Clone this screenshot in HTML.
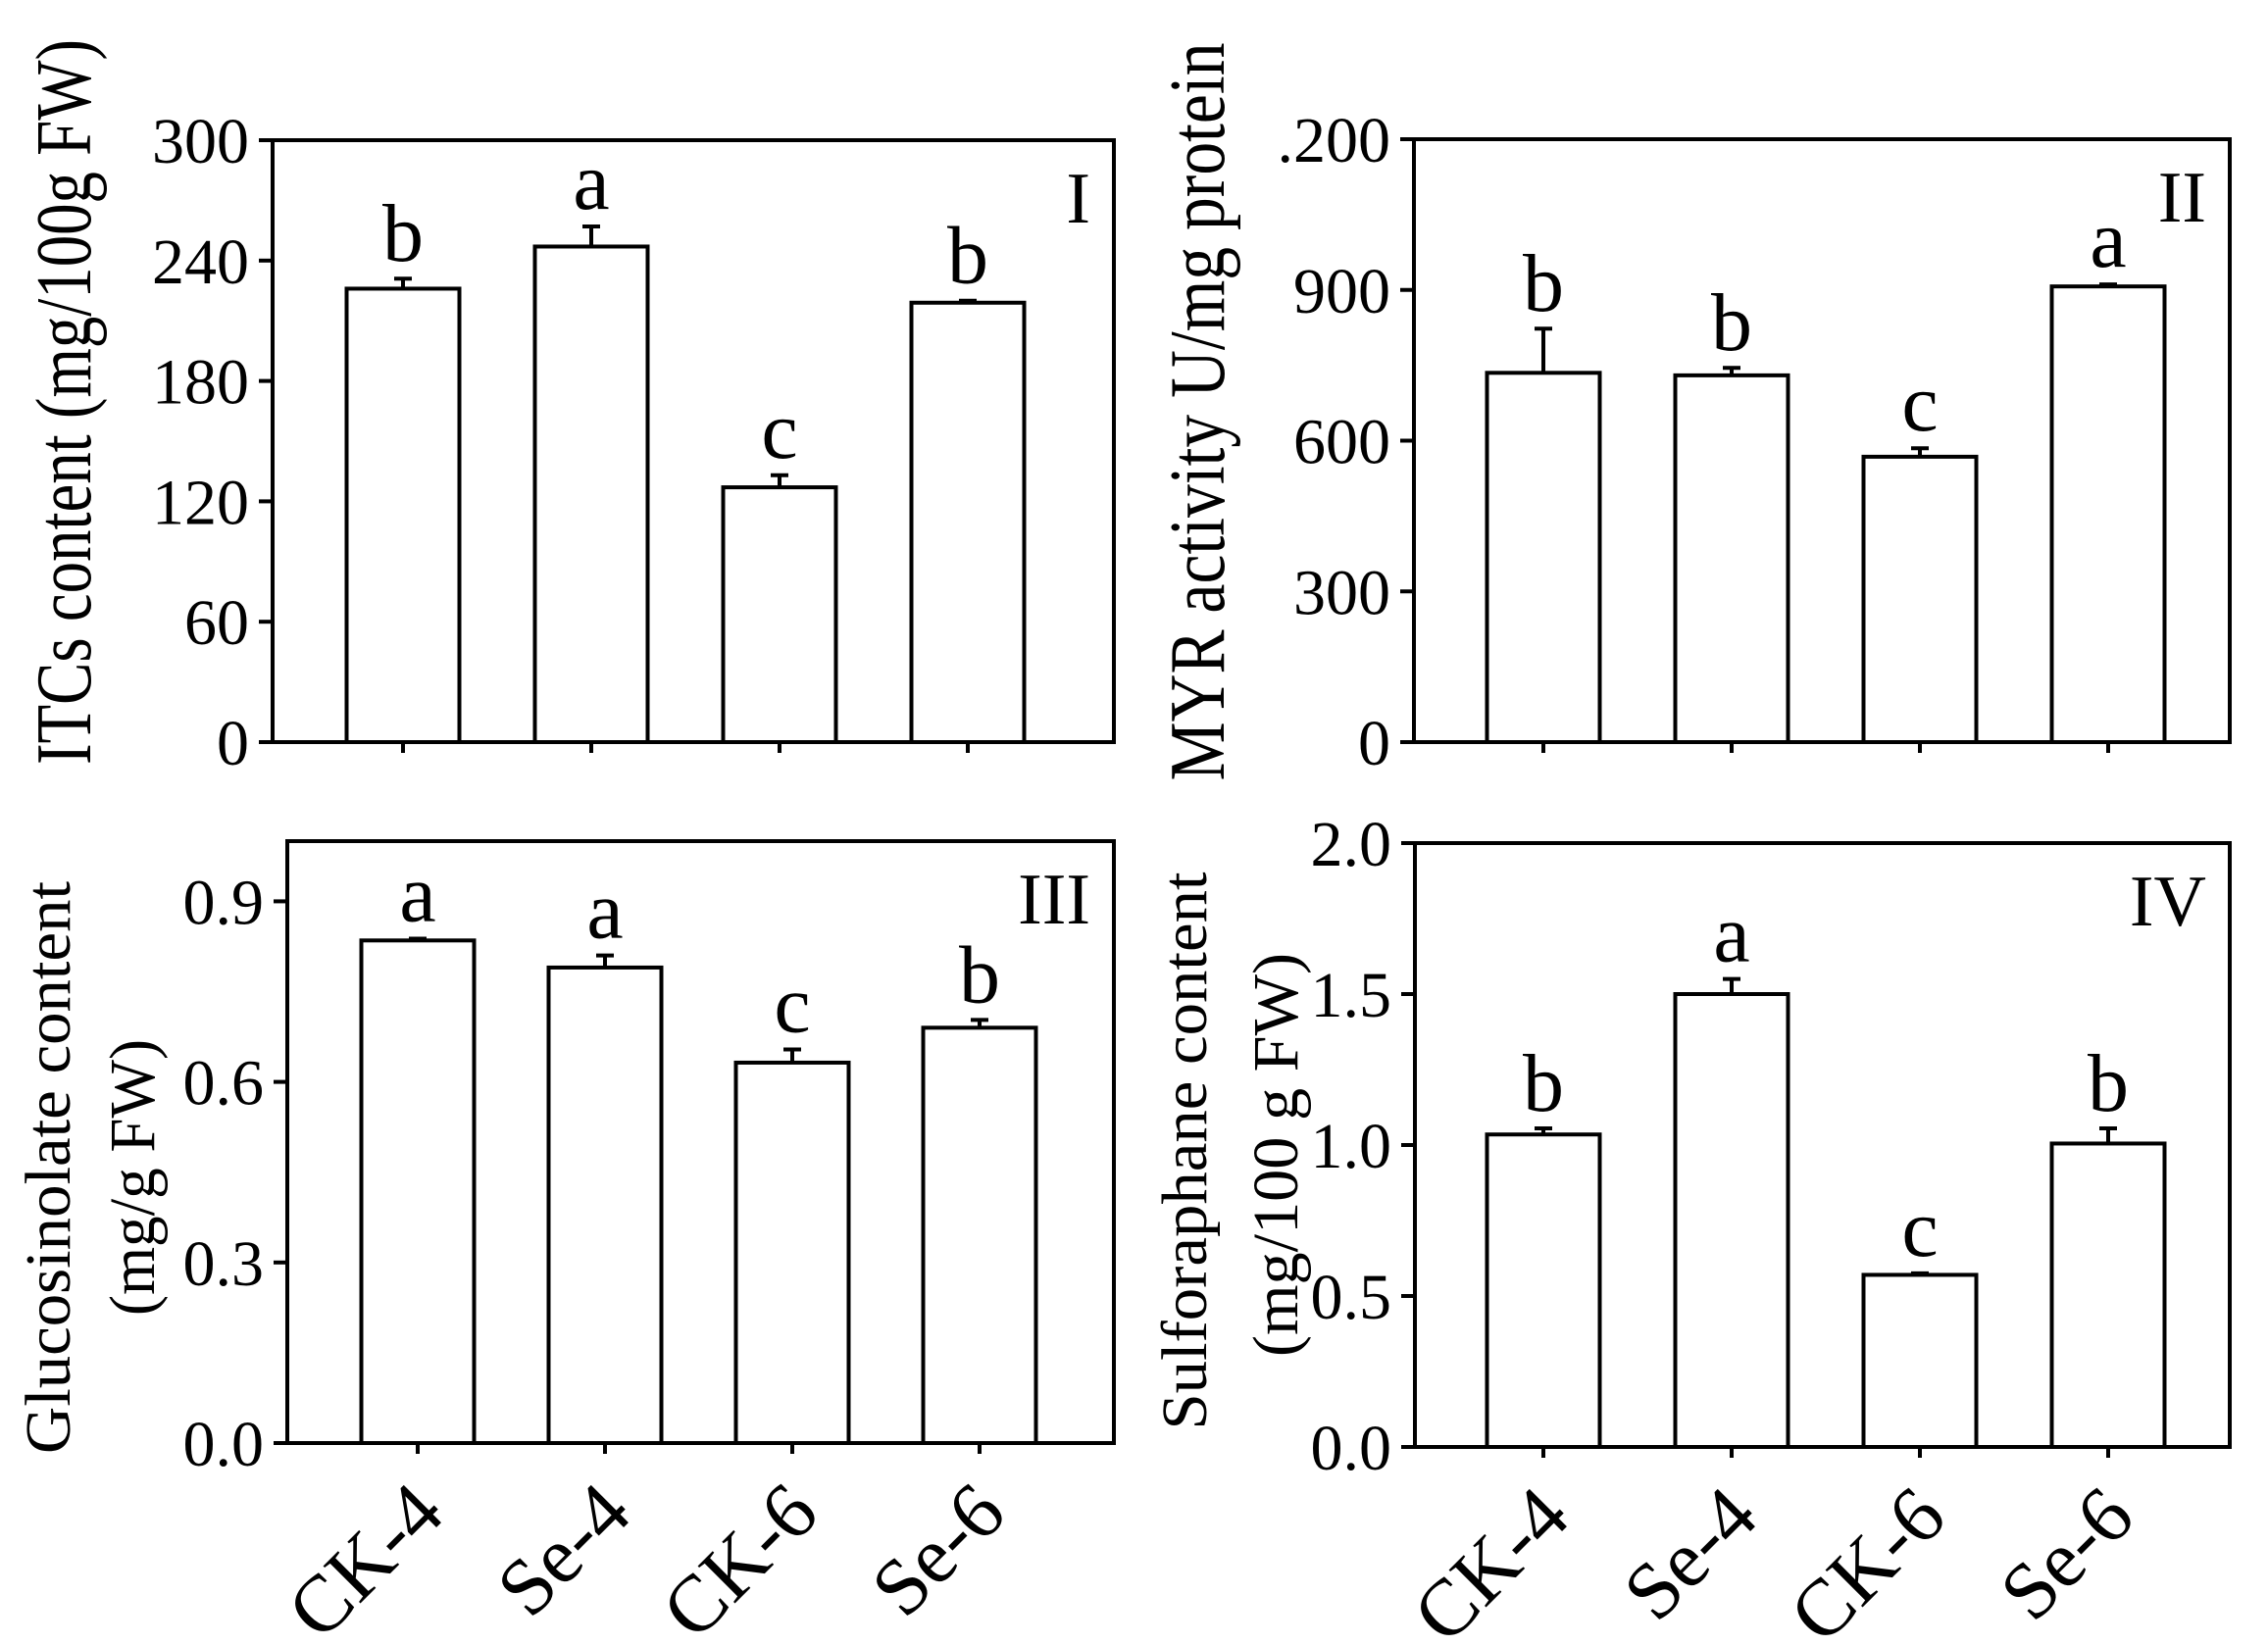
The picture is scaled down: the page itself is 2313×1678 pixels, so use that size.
<!DOCTYPE html>
<html><head><meta charset="utf-8"><style>
html,body{margin:0;padding:0;background:#fff;}
svg{display:block;font-family:"Liberation Serif",serif;}
</style></head><body>
<svg id="chart" width="2313" height="1678" viewBox="0 0 2313 1678"></svg>
<script>
const categories = ["CK-4","Se-4","CK-6","Se-6"];
const itcValues = [226,247,127,219];
const itcErrors = [5,10,6,1];
const itcLetters = ["b","a","c","b"];
const itcTicks = [0,60,120,180,240,300];
const myrValues = [735,730,568,907];
const myrErrors = [88,15,17,4];
const myrLetters = ["b","b","c","a"];
const myrTicks = [0,300,600,900,1200];
const myrTickLabels = ["0","300","600","900",".200"];
const glsValues = [0.835,0.79,0.632,0.69];
const glsErrors = [0.003,0.02,0.022,0.013];
const glsLetters = ["a","a","c","b"];
const glsTicks = [0,0.3,0.6,0.9];
const glsTickLabels = ["0.0","0.3","0.6","0.9"];
const sfValues = [1.035,1.5,0.57,1.005];
const sfErrors = [0.02,0.05,0.005,0.05];
const sfLetters = ["b","a","c","b"];
const sfTicks = [0,0.5,1.0,1.5,2.0];
const sfTickLabels = ["0.0","0.5","1.0","1.5","2.0"];

const NS="http://www.w3.org/2000/svg";
const svg=document.getElementById('chart');
function mk(tag,attrs,parent){const e=document.createElementNS(NS,tag);for(const k in attrs)e.setAttribute(k,attrs[k]);(parent||svg).appendChild(e);return e;}

function panel(p){
  const g=mk('g',{});
  
  
  const y=v=>p.bottom-(v/p.max)*(p.bottom-p.top);
  const x=i=>p.left+p.first+i*p.step;
  const frame=mk('rect',{x:p.left,y:p.top,width:p.right-p.left,height:p.bottom-p.top,fill:'none',stroke:'#000','stroke-width':4},g);
  
  
  p.ticks.forEach((t,i)=>{
    const ty=y(t);
    const tk=mk('line',{x1:p.left-14,x2:p.left,y1:ty,y2:ty,stroke:'#000','stroke-width':4},g);
    
    
    const tl=mk('text',{x:p.left-24,y:ty+23,'text-anchor':'end','font-size':66},g);
    tl.textContent=p.tickLabels?p.tickLabels[i]:String(t);
    
    
  });
  p.values.forEach((v,i)=>{
    const cx=x(i), bw=115, top=y(v), et=y(v+p.errors[i]);
    const xt=mk('line',{x1:cx,x2:cx,y1:p.bottom,y2:p.bottom+11,stroke:'#000','stroke-width':4},g);
    
    
    const eb=mk('path',{d:`M${cx} ${top}V${et}M${cx-9} ${et}H${cx+9}`,stroke:'#000','stroke-width':4,fill:'none'},g);
    
    
    const b=mk('rect',{x:cx-bw/2,y:top,width:bw,height:p.bottom-top,fill:'#fff',stroke:'#000','stroke-width':4},g);
    
    
    const lt=mk('text',{x:cx,y:et-18,'text-anchor':'middle','font-size':84},g);
    lt.textContent=p.letters[i];
    
    
    if(p.xlabels){
      const ax=cx+30, ay=p.bottom+75;
      const xl=mk('text',{x:ax,y:ay,'text-anchor':'end','font-size':82,transform:`rotate(-45 ${ax} ${ay})`},g);
      xl.textContent=categories[i];
      
      
    }
  });
  const rn=mk('text',{x:p.right-24,y:p.top+84,'text-anchor':'end','font-size':74},g);
  rn.textContent=p.roman;
  
  
  p.titles.forEach(t=>{
    const tt=mk('text',{x:t.x,y:t.cy,'text-anchor':'middle','font-size':t.fs,textLength:t.len,lengthAdjust:'spacingAndGlyphs',transform:`rotate(-90 ${t.x} ${t.cy})`},g);
    tt.textContent=t.text;
    
    
  });
}

panel({name:'panel-itc',left:278,right:1136,top:143,bottom:757,max:300,first:133,step:192,values:itcValues,errors:itcErrors,letters:itcLetters,ticks:itcTicks,roman:'I',
  titles:[{text:'ITCs content (mg/100g FW)',x:92,cy:410,len:740,fs:80}]});
panel({name:'panel-myr',left:1442,right:2274,top:142,bottom:757,max:1200,first:132,step:192,values:myrValues,errors:myrErrors,letters:myrLetters,ticks:myrTicks,tickLabels:myrTickLabels,roman:'II',
  titles:[{text:'MYR activity  U/mg protein',x:1248,cy:420,len:753,fs:80}]});
panel({name:'panel-glucosinolate',left:293,right:1136,top:858,bottom:1472,max:1.0,first:133,step:191,values:glsValues,errors:glsErrors,letters:glsLetters,ticks:glsTicks,tickLabels:glsTickLabels,roman:'III',xlabels:true,
  titles:[{text:'Glucosinolate content',x:71,cy:1191,len:584,fs:66},{text:'(mg/g FW)',x:157,cy:1201,len:282,fs:66}]});
panel({name:'panel-sulforaphane',left:1443,right:2274,top:860,bottom:1476,max:2.0,first:131,step:192,values:sfValues,errors:sfErrors,letters:sfLetters,ticks:sfTicks,tickLabels:sfTickLabels,roman:'IV',xlabels:true,
  titles:[{text:'Sulforaphane content',x:1230,cy:1174,len:569,fs:66},{text:'(mg/100 g FW)',x:1323,cy:1178,len:412,fs:66}]});
</script>
</body></html>
